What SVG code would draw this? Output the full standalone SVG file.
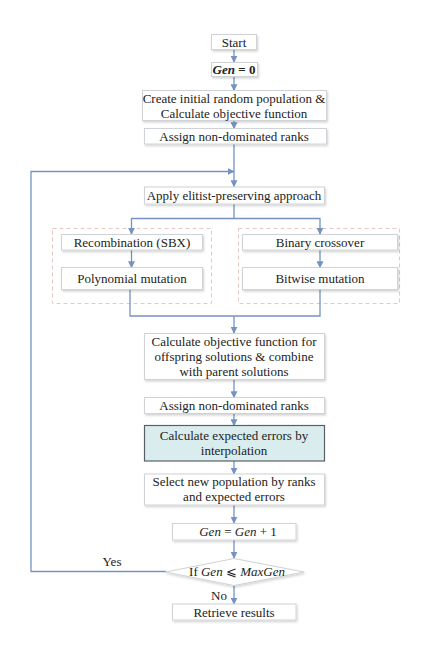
<svg xmlns="http://www.w3.org/2000/svg" width="436" height="660" viewBox="0 0 436 660">
<defs>
<style>
.box{fill:#fff;stroke:#cfd2d6;stroke-width:1;filter:url(#sh)}
.hl{fill:#d9edef;stroke:#5a5f63;stroke-width:1.2}
.grp{fill:none;stroke:#e3c9c4;stroke-width:1;stroke-dasharray:4 3}
.ln{fill:none;stroke:#7493c2;stroke-width:1.3}
text{font-family:"Liberation Serif","Times New Roman",serif;font-size:13px;fill:#222;text-anchor:middle}
.i{font-style:italic}
</style>
<filter id="sh" x="-10%" y="-20%" width="120%" height="150%">
<feDropShadow dx="1" dy="1.5" stdDeviation="1" flood-color="#000" flood-opacity="0.18"/>
</filter>
<marker id="ar" viewBox="0 0 10 10" refX="9" refY="5" markerWidth="7" markerHeight="7" markerUnits="userSpaceOnUse" orient="auto">
<path d="M0,0 L10,5 L0,10 z" fill="#7493c2"/>
</marker>
</defs>
<rect width="436" height="660" fill="#fff"/>
<g id="groups">
<rect class="grp" x="52.5" y="228.5" width="159" height="75"/>
<rect class="grp" x="238.5" y="228.5" width="161" height="75"/>
</g>
<g id="connectors">
<line class="ln" x1="234" y1="49" x2="234" y2="62" marker-end="url(#ar)"/>
<line class="ln" x1="234" y1="76" x2="234" y2="90.5" marker-end="url(#ar)"/>
<line class="ln" x1="234" y1="121" x2="234" y2="128.5" marker-end="url(#ar)"/>
<line class="ln" x1="234" y1="144" x2="234" y2="186.5" marker-end="url(#ar)"/>
<polyline class="ln" points="166,571.5 31,571.5 31,171.5 234,171.5" marker-end="url(#ar)"/>
<line class="ln" x1="234" y1="204" x2="234" y2="218.5"/>
<polyline class="ln" points="131.5,234 131.5,218.5 320,218.5 320,234" />
<line class="ln" x1="131.5" y1="228" x2="131.5" y2="234" marker-end="url(#ar)"/>
<line class="ln" x1="320" y1="228" x2="320" y2="234" marker-end="url(#ar)"/>
<line class="ln" x1="131.5" y1="250" x2="131.5" y2="267.5" marker-end="url(#ar)"/>
<line class="ln" x1="320" y1="250" x2="320" y2="267.5" marker-end="url(#ar)"/>
<polyline class="ln" points="130,289.5 130,316 320,316 320,289.5"/>
<line class="ln" x1="234" y1="316" x2="234" y2="333" marker-end="url(#ar)"/>
<line class="ln" x1="234" y1="379.5" x2="234" y2="397.5" marker-end="url(#ar)"/>
<line class="ln" x1="234" y1="413.5" x2="234" y2="425.5" marker-end="url(#ar)"/>
<line class="ln" x1="234" y1="461" x2="234" y2="474" marker-end="url(#ar)"/>
<line class="ln" x1="234" y1="505" x2="234" y2="523" marker-end="url(#ar)"/>
<line class="ln" x1="234" y1="540" x2="234" y2="558" marker-end="url(#ar)"/>
<line class="ln" x1="234" y1="586" x2="234" y2="604" marker-end="url(#ar)"/>
<text x="112" y="565.5">Yes</text>
<text x="219" y="600">No</text>
</g>
<g id="start"><rect class="box" x="211.5" y="34.5" width="45" height="15"/><text x="234" y="46.5">Start</text></g>
<g id="gen0"><rect class="box" x="211.5" y="62.5" width="46" height="14"/><text x="234" y="74" font-weight="bold"><tspan class="i">Gen</tspan> = 0</text></g>
<g id="create"><rect class="box" x="142.5" y="90.5" width="184" height="30"/><text x="234" y="103">Create initial random population &amp;</text><text x="234" y="117.5">Calculate objective function</text></g>
<g id="assign1"><rect class="box" x="144.5" y="128.5" width="182" height="15.5"/><text x="234" y="141">Assign non-dominated ranks</text></g>
<g id="apply"><rect class="box" x="144.5" y="187" width="180" height="17"/><text x="234" y="200">Apply elitist-preserving approach</text></g>
<g id="sbx"><rect class="box" x="61.5" y="234.5" width="141" height="15.5"/><text x="132" y="247">Recombination (SBX)</text></g>
<g id="poly"><rect class="box" x="61.5" y="267.5" width="141" height="22"/><text x="132" y="283">Polynomial mutation</text></g>
<g id="binary"><rect class="box" x="242.5" y="234.5" width="155" height="15.5"/><text x="320" y="247">Binary crossover</text></g>
<g id="bitwise"><rect class="box" x="242.5" y="267.5" width="155" height="22"/><text x="320" y="283">Bitwise mutation</text></g>
<g id="calc"><rect class="box" x="144.5" y="333.5" width="180" height="46"/><text x="234" y="345.5">Calculate objective function for</text><text x="234" y="360.5">offspring solutions &amp; combine</text><text x="234" y="375.5">with parent solutions</text></g>
<g id="assign2"><rect class="box" x="144.5" y="397.5" width="180" height="16"/><text x="234" y="410">Assign non-dominated ranks</text></g>
<g id="expected"><rect class="hl" x="144.5" y="425.5" width="180" height="35.5"/><text x="234" y="439.5">Calculate expected errors by</text><text x="234" y="455">interpolation</text></g>
<g id="select"><rect class="box" x="144.5" y="474" width="180" height="31"/><text x="234" y="486">Select new population by ranks</text><text x="234" y="501">and expected errors</text></g>
<g id="geninc"><rect class="box" x="172.5" y="523.5" width="123.5" height="16.5"/><text x="238" y="535.5"><tspan class="i">Gen</tspan> = <tspan class="i">Gen</tspan> + 1</text></g>
<g id="decision"><polygon class="box" points="165.5,572 234,558.5 304,572 234,585.5"/><text x="237" y="576">If <tspan class="i">Gen</tspan> ⩽ <tspan class="i">MaxGen</tspan></text></g>
<g id="retrieve"><rect class="box" x="172.5" y="604" width="123.5" height="16"/><text x="234" y="616.5">Retrieve results</text></g>
</svg>
